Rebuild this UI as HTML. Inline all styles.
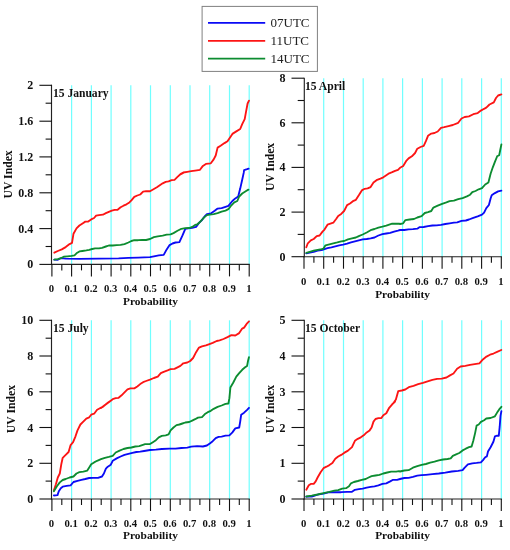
<!DOCTYPE html>
<html><head><meta charset="utf-8"><title>UV Index probability</title>
<style>
html,body{margin:0;padding:0;background:#fff;}
svg{display:block;}
text{font-family:"Liberation Serif","Times New Roman",serif;fill:#111;}
.yl{font-size:12px;font-weight:bold;}
.xl{font-size:10.7px;font-weight:bold;}
.al{font-size:11.7px;font-weight:bold;}
.pl{font-size:11.4px;font-weight:bold;}
.tl{font-size:11.6px;font-weight:bold;}
.lg{font-size:13px;fill:#222;}
</style></head><body>
<svg width="510" height="550" viewBox="0 0 510 550">
<rect width="510" height="550" fill="#fff"/>
<g>
<rect x="202.1" y="6.4" width="115.3" height="65" fill="#fff" stroke="#808080" stroke-width="1"/>
<line x1="208" y1="22.9" x2="265.2" y2="22.9" stroke="#0a0af5" stroke-width="1.6"/>
<line x1="208" y1="40.9" x2="265.2" y2="40.9" stroke="#fc1414" stroke-width="1.6"/>
<line x1="208" y1="58.6" x2="265.2" y2="58.6" stroke="#0c8c30" stroke-width="1.6"/>
<text x="270.5" y="26.9" class="lg">07UTC</text>
<text x="270.5" y="45.2" class="lg">11UTC</text>
<text x="270.5" y="62.9" class="lg">14UTC</text>
</g>
<g><line x1="71.6" y1="85.3" x2="71.6" y2="264.4" stroke="#70ffff" stroke-width="1.2"/>
<line x1="91.4" y1="85.3" x2="91.4" y2="264.4" stroke="#70ffff" stroke-width="1.2"/>
<line x1="111.1" y1="85.3" x2="111.1" y2="264.4" stroke="#70ffff" stroke-width="1.2"/>
<line x1="130.8" y1="85.3" x2="130.8" y2="264.4" stroke="#70ffff" stroke-width="1.2"/>
<line x1="150.5" y1="85.3" x2="150.5" y2="264.4" stroke="#70ffff" stroke-width="1.2"/>
<line x1="170.3" y1="85.3" x2="170.3" y2="264.4" stroke="#70ffff" stroke-width="1.2"/>
<line x1="190.0" y1="85.3" x2="190.0" y2="264.4" stroke="#70ffff" stroke-width="1.2"/>
<line x1="209.7" y1="85.3" x2="209.7" y2="264.4" stroke="#70ffff" stroke-width="1.2"/>
<line x1="229.5" y1="85.3" x2="229.5" y2="264.4" stroke="#70ffff" stroke-width="1.2"/>
<line x1="249.2" y1="85.3" x2="249.2" y2="264.4" stroke="#70ffff" stroke-width="1.2"/>
<polyline points="54.3,259.6 57.8,259.8 60.8,258.2 65.7,258.6 79.4,258.8 99.0,258.6 118.6,258.4 128.4,257.8 138.2,257.6 150.0,257.1 153.9,256.3 158.8,255.3 163.7,254.9 166.7,249.4 169.6,245.1 172.5,243.5 175.5,242.5 179.4,242.2 182.4,235.7 185.3,228.8 188.2,228.4 192.2,227.8 196.1,226.9 199.0,222.9 202.0,220.0 204.9,216.1 206.9,214.1 210.8,213.5 214.7,210.8 217.6,208.6 221.6,208.2 225.5,206.9 228.4,205.9 232.4,201.0 235.3,198.4 238.2,196.5 240.2,188.6 242.2,179.8 243.7,172.9 244.1,170.2 247.1,169.2 248.6,168.6" fill="none" stroke="#0a0af5" stroke-width="1.85" stroke-linejoin="round" stroke-linecap="round"/>
<polyline points="54.3,252.7 57.8,251.0 61.8,249.4 65.7,247.1 69.6,244.1 72.0,242.9 73.5,233.7 76.5,228.4 79.4,225.5 83.3,222.9 85.3,221.6 88.2,221.6 91.2,219.4 94.1,218.0 96.1,215.7 99.0,215.1 102.9,214.7 105.9,213.1 108.8,211.8 111.8,210.6 114.7,209.8 117.6,209.8 120.6,207.3 123.5,205.7 126.5,204.3 129.4,202.4 131.4,200.4 134.3,196.9 137.3,195.5 140.2,194.5 143.1,191.6 146.1,191.2 150.0,191.2 153.9,189.0 156.9,187.3 159.8,185.3 162.7,183.3 165.7,181.8 168.6,181.4 171.6,180.2 174.5,179.8 177.5,176.9 180.4,174.3 183.3,172.9 180.4,174.1 183.3,172.5 187.3,171.8 191.2,171.2 195.1,170.6 200.0,169.8 202.9,165.9 205.9,163.9 210.8,163.3 213.7,159.4 215.7,155.5 217.6,147.6 220.6,145.7 224.5,143.1 227.5,141.2 230.4,136.9 232.4,133.9 236.3,131.4 240.2,129.0 242.2,124.1 244.7,119.2 246.1,111.4 247.6,103.5 249.0,100.6" fill="none" stroke="#fc1414" stroke-width="1.85" stroke-linejoin="round" stroke-linecap="round"/>
<polyline points="54.3,259.6 57.8,259.2 60.8,258.2 63.7,256.7 67.6,256.3 71.6,255.9 74.5,255.3 76.5,253.3 79.4,251.4 82.4,251.0 86.3,250.4 89.2,249.8 92.2,249.0 95.1,248.4 99.0,248.4 102.0,247.8 105.9,246.5 108.8,245.5 112.7,245.5 116.7,245.1 120.6,244.9 124.5,244.1 128.4,242.5 131.4,241.0 134.3,240.2 138.2,240.2 142.2,240.0 146.1,240.0 150.0,239.0 153.9,237.1 157.8,236.3 162.7,235.7 166.7,234.7 170.6,234.3 173.5,233.1 177.5,230.8 181.4,228.8 185.3,228.2 189.2,228.0 192.2,226.9 195.1,224.9 197.1,224.5 200.0,222.0 203.9,217.6 206.9,215.1 209.8,214.7 213.7,214.1 217.6,213.1 221.6,211.6 225.5,210.6 228.4,209.2 231.4,205.3 234.3,202.4 237.3,201.0 239.2,196.5 242.2,193.5 246.1,191.0 248.4,189.6" fill="none" stroke="#0c8c30" stroke-width="1.85" stroke-linejoin="round" stroke-linecap="round"/>
<line x1="51.50" y1="84.8" x2="51.50" y2="264.9" stroke="#222" stroke-width="1.15"/>
<line x1="51.3" y1="264.4" x2="249.8" y2="264.4" stroke="#222" stroke-width="1.15"/>
<line x1="39.4" y1="85.3" x2="51.9" y2="85.3" stroke="#111" stroke-width="1.1"/>
<text x="33.3" y="89.3" text-anchor="end" class="yl">2</text>
<line x1="45.6" y1="103.2" x2="51.9" y2="103.2" stroke="#111" stroke-width="1.1"/>
<line x1="39.4" y1="121.2" x2="51.9" y2="121.2" stroke="#111" stroke-width="1.1"/>
<text x="33.3" y="125.2" text-anchor="end" class="yl">1.6</text>
<line x1="45.6" y1="139.1" x2="51.9" y2="139.1" stroke="#111" stroke-width="1.1"/>
<line x1="39.4" y1="156.9" x2="51.9" y2="156.9" stroke="#111" stroke-width="1.1"/>
<text x="33.3" y="160.9" text-anchor="end" class="yl">1.2</text>
<line x1="45.6" y1="174.8" x2="51.9" y2="174.8" stroke="#111" stroke-width="1.1"/>
<line x1="39.4" y1="192.8" x2="51.9" y2="192.8" stroke="#111" stroke-width="1.1"/>
<text x="33.3" y="196.8" text-anchor="end" class="yl">0.8</text>
<line x1="45.6" y1="210.7" x2="51.9" y2="210.7" stroke="#111" stroke-width="1.1"/>
<line x1="39.4" y1="228.6" x2="51.9" y2="228.6" stroke="#111" stroke-width="1.1"/>
<text x="33.3" y="232.6" text-anchor="end" class="yl">0.4</text>
<line x1="45.6" y1="246.5" x2="51.9" y2="246.5" stroke="#111" stroke-width="1.1"/>
<line x1="39.4" y1="264.4" x2="51.9" y2="264.4" stroke="#111" stroke-width="1.1"/>
<text x="33.3" y="268.4" text-anchor="end" class="yl">0</text>
<line x1="51.9" y1="264.4" x2="51.9" y2="276.4" stroke="#111" stroke-width="1.1"/>
<text x="51.5" y="292.15" text-anchor="middle" class="xl">0</text>
<line x1="61.8" y1="264.4" x2="61.8" y2="270.4" stroke="#111" stroke-width="1.1"/>
<line x1="71.6" y1="264.4" x2="71.6" y2="276.4" stroke="#111" stroke-width="1.1"/>
<text x="71.2" y="292.15" text-anchor="middle" class="xl">0.1</text>
<line x1="81.5" y1="264.4" x2="81.5" y2="270.4" stroke="#111" stroke-width="1.1"/>
<line x1="91.4" y1="264.4" x2="91.4" y2="276.4" stroke="#111" stroke-width="1.1"/>
<text x="91.0" y="292.15" text-anchor="middle" class="xl">0.2</text>
<line x1="101.2" y1="264.4" x2="101.2" y2="270.4" stroke="#111" stroke-width="1.1"/>
<line x1="111.1" y1="264.4" x2="111.1" y2="276.4" stroke="#111" stroke-width="1.1"/>
<text x="110.7" y="292.15" text-anchor="middle" class="xl">0.3</text>
<line x1="121.0" y1="264.4" x2="121.0" y2="270.4" stroke="#111" stroke-width="1.1"/>
<line x1="130.8" y1="264.4" x2="130.8" y2="276.4" stroke="#111" stroke-width="1.1"/>
<text x="130.4" y="292.15" text-anchor="middle" class="xl">0.4</text>
<line x1="140.7" y1="264.4" x2="140.7" y2="270.4" stroke="#111" stroke-width="1.1"/>
<line x1="150.5" y1="264.4" x2="150.5" y2="276.4" stroke="#111" stroke-width="1.1"/>
<text x="150.1" y="292.15" text-anchor="middle" class="xl">0.5</text>
<line x1="160.4" y1="264.4" x2="160.4" y2="270.4" stroke="#111" stroke-width="1.1"/>
<line x1="170.3" y1="264.4" x2="170.3" y2="276.4" stroke="#111" stroke-width="1.1"/>
<text x="169.9" y="292.15" text-anchor="middle" class="xl">0.6</text>
<line x1="180.1" y1="264.4" x2="180.1" y2="270.4" stroke="#111" stroke-width="1.1"/>
<line x1="190.0" y1="264.4" x2="190.0" y2="276.4" stroke="#111" stroke-width="1.1"/>
<text x="189.6" y="292.15" text-anchor="middle" class="xl">0.7</text>
<line x1="199.9" y1="264.4" x2="199.9" y2="270.4" stroke="#111" stroke-width="1.1"/>
<line x1="209.7" y1="264.4" x2="209.7" y2="276.4" stroke="#111" stroke-width="1.1"/>
<text x="209.3" y="292.15" text-anchor="middle" class="xl">0.8</text>
<line x1="219.6" y1="264.4" x2="219.6" y2="270.4" stroke="#111" stroke-width="1.1"/>
<line x1="229.5" y1="264.4" x2="229.5" y2="276.4" stroke="#111" stroke-width="1.1"/>
<text x="229.1" y="292.15" text-anchor="middle" class="xl">0.9</text>
<line x1="239.3" y1="264.4" x2="239.3" y2="270.4" stroke="#111" stroke-width="1.1"/>
<line x1="249.2" y1="264.4" x2="249.2" y2="276.4" stroke="#111" stroke-width="1.1"/>
<text x="248.8" y="292.15" text-anchor="middle" class="xl">1</text>
<text x="150.5" y="305.05" text-anchor="middle" class="pl">Probability</text>
<text transform="translate(11.6,174.4) rotate(-90)" text-anchor="middle" class="al">UV Index</text>
<text x="52.9" y="96.6" class="tl">15 January</text></g>
<g><line x1="323.7" y1="78.2" x2="323.7" y2="256.7" stroke="#70ffff" stroke-width="1.2"/>
<line x1="343.5" y1="78.2" x2="343.5" y2="256.7" stroke="#70ffff" stroke-width="1.2"/>
<line x1="363.2" y1="78.2" x2="363.2" y2="256.7" stroke="#70ffff" stroke-width="1.2"/>
<line x1="382.9" y1="78.2" x2="382.9" y2="256.7" stroke="#70ffff" stroke-width="1.2"/>
<line x1="402.6" y1="78.2" x2="402.6" y2="256.7" stroke="#70ffff" stroke-width="1.2"/>
<line x1="422.4" y1="78.2" x2="422.4" y2="256.7" stroke="#70ffff" stroke-width="1.2"/>
<line x1="442.1" y1="78.2" x2="442.1" y2="256.7" stroke="#70ffff" stroke-width="1.2"/>
<line x1="461.8" y1="78.2" x2="461.8" y2="256.7" stroke="#70ffff" stroke-width="1.2"/>
<line x1="481.6" y1="78.2" x2="481.6" y2="256.7" stroke="#70ffff" stroke-width="1.2"/>
<line x1="501.3" y1="78.2" x2="501.3" y2="256.7" stroke="#70ffff" stroke-width="1.2"/>
<polyline points="306.3,253.3 309.8,252.5 313.7,251.8 317.6,250.6 321.6,250.2 324.5,249.2 327.5,248.2 331.4,247.3 335.3,246.3 339.2,245.3 343.1,244.7 347.1,243.7 351.0,242.4 354.9,241.4 358.8,240.4 362.7,239.4 366.7,239.0 370.6,238.4 374.5,237.5 378.4,235.5 382.4,234.1 386.3,233.5 390.2,232.9 394.1,231.6 398.0,230.6 400.0,230.0 404.3,230.0 408.6,229.4 412.9,229.2 417.3,228.7 419.4,227.2 423.7,227.0 428.0,226.1 432.4,225.5 436.7,225.3 441.0,224.8 445.3,224.0 449.6,223.3 453.9,222.7 457.2,222.3 461.5,220.8 465.8,220.5 469.0,219.5 473.3,217.9 477.7,216.4 482.0,214.7 484.1,212.6 486.3,208.2 488.9,205.0 490.6,198.5 491.7,195.3 494.9,193.1 498.1,191.4 501.4,190.6" fill="none" stroke="#0a0af5" stroke-width="1.85" stroke-linejoin="round" stroke-linecap="round"/>
<polyline points="306.3,247.3 307.8,243.3 310.8,240.4 313.7,239.0 316.7,236.1 319.6,235.5 322.5,231.6 324.5,229.6 327.5,224.7 330.4,223.7 333.3,222.7 336.3,218.8 338.2,215.9 341.2,213.9 344.1,211.0 347.1,205.1 350.0,203.5 352.9,201.2 355.9,199.8 358.8,195.3 361.8,190.4 364.7,188.8 367.6,188.4 370.6,187.1 373.5,182.5 376.5,180.2 380.4,178.6 383.3,177.3 386.3,175.3 389.2,173.3 392.2,172.2 395.1,170.8 398.0,169.8 400.0,167.8 403.2,166.0 406.5,160.6 408.6,158.4 411.9,156.3 415.1,153.0 417.3,148.7 420.5,147.0 423.7,145.9 425.9,141.2 428.0,135.8 431.3,133.6 434.5,133.0 437.7,131.5 441.0,127.8 444.2,127.2 448.5,126.1 452.8,125.0 458.2,122.8 461.5,118.5 464.7,117.0 469.0,116.4 473.3,114.2 477.7,113.1 480.9,110.6 484.1,108.8 486.3,107.7 489.5,104.5 493.8,102.4 496.0,98.0 498.1,95.5 501.4,94.4" fill="none" stroke="#fc1414" stroke-width="1.85" stroke-linejoin="round" stroke-linecap="round"/>
<polyline points="306.3,252.9 309.8,251.8 313.7,250.6 317.6,249.8 321.6,249.2 323.5,248.6 325.5,245.3 329.4,244.3 333.3,243.3 337.3,242.4 341.2,241.4 344.1,241.0 348.0,239.4 352.0,238.4 355.9,237.5 358.8,236.1 362.7,234.5 366.7,232.5 370.6,230.2 374.5,229.0 378.4,227.6 382.4,226.7 386.3,225.7 389.2,224.7 392.2,223.7 396.1,223.7 399.0,223.7 400.0,224.0 403.2,223.3 405.4,220.1 409.7,219.5 414.0,219.0 417.3,217.5 421.6,216.2 424.8,213.0 428.0,212.1 431.3,211.0 433.4,207.6 437.7,205.7 442.1,203.9 446.4,202.4 449.6,201.1 453.9,200.7 458.2,199.2 462.6,198.1 466.9,196.4 470.1,194.7 472.3,192.1 475.5,191.0 478.7,189.3 482.0,188.2 485.2,184.5 488.4,182.4 490.6,173.7 492.8,167.3 494.9,161.9 497.1,156.5 497.1,156.3 499.2,155.2 500.3,149.8 501.4,144.4" fill="none" stroke="#0c8c30" stroke-width="1.85" stroke-linejoin="round" stroke-linecap="round"/>
<line x1="304.30" y1="77.7" x2="304.30" y2="257.2" stroke="#222" stroke-width="1.15"/>
<line x1="303.4" y1="256.7" x2="501.9" y2="256.7" stroke="#222" stroke-width="1.15"/>
<line x1="291.5" y1="78.2" x2="304.0" y2="78.2" stroke="#111" stroke-width="1.1"/>
<text x="285.4" y="82.2" text-anchor="end" class="yl">8</text>
<line x1="297.7" y1="100.5" x2="304.0" y2="100.5" stroke="#111" stroke-width="1.1"/>
<line x1="291.5" y1="122.8" x2="304.0" y2="122.8" stroke="#111" stroke-width="1.1"/>
<text x="285.4" y="126.8" text-anchor="end" class="yl">6</text>
<line x1="297.7" y1="145.1" x2="304.0" y2="145.1" stroke="#111" stroke-width="1.1"/>
<line x1="291.5" y1="167.4" x2="304.0" y2="167.4" stroke="#111" stroke-width="1.1"/>
<text x="285.4" y="171.4" text-anchor="end" class="yl">4</text>
<line x1="297.7" y1="189.7" x2="304.0" y2="189.7" stroke="#111" stroke-width="1.1"/>
<line x1="291.5" y1="212.1" x2="304.0" y2="212.1" stroke="#111" stroke-width="1.1"/>
<text x="285.4" y="216.1" text-anchor="end" class="yl">2</text>
<line x1="297.7" y1="234.4" x2="304.0" y2="234.4" stroke="#111" stroke-width="1.1"/>
<line x1="291.5" y1="256.7" x2="304.0" y2="256.7" stroke="#111" stroke-width="1.1"/>
<text x="285.4" y="260.7" text-anchor="end" class="yl">0</text>
<line x1="304.0" y1="256.7" x2="304.0" y2="268.7" stroke="#111" stroke-width="1.1"/>
<text x="303.6" y="284.50" text-anchor="middle" class="xl">0</text>
<line x1="313.9" y1="256.7" x2="313.9" y2="262.7" stroke="#111" stroke-width="1.1"/>
<line x1="323.7" y1="256.7" x2="323.7" y2="268.7" stroke="#111" stroke-width="1.1"/>
<text x="323.3" y="284.50" text-anchor="middle" class="xl">0.1</text>
<line x1="333.6" y1="256.7" x2="333.6" y2="262.7" stroke="#111" stroke-width="1.1"/>
<line x1="343.5" y1="256.7" x2="343.5" y2="268.7" stroke="#111" stroke-width="1.1"/>
<text x="343.1" y="284.50" text-anchor="middle" class="xl">0.2</text>
<line x1="353.3" y1="256.7" x2="353.3" y2="262.7" stroke="#111" stroke-width="1.1"/>
<line x1="363.2" y1="256.7" x2="363.2" y2="268.7" stroke="#111" stroke-width="1.1"/>
<text x="362.8" y="284.50" text-anchor="middle" class="xl">0.3</text>
<line x1="373.1" y1="256.7" x2="373.1" y2="262.7" stroke="#111" stroke-width="1.1"/>
<line x1="382.9" y1="256.7" x2="382.9" y2="268.7" stroke="#111" stroke-width="1.1"/>
<text x="382.5" y="284.50" text-anchor="middle" class="xl">0.4</text>
<line x1="392.8" y1="256.7" x2="392.8" y2="262.7" stroke="#111" stroke-width="1.1"/>
<line x1="402.6" y1="256.7" x2="402.6" y2="268.7" stroke="#111" stroke-width="1.1"/>
<text x="402.2" y="284.50" text-anchor="middle" class="xl">0.5</text>
<line x1="412.5" y1="256.7" x2="412.5" y2="262.7" stroke="#111" stroke-width="1.1"/>
<line x1="422.4" y1="256.7" x2="422.4" y2="268.7" stroke="#111" stroke-width="1.1"/>
<text x="422.0" y="284.50" text-anchor="middle" class="xl">0.6</text>
<line x1="432.2" y1="256.7" x2="432.2" y2="262.7" stroke="#111" stroke-width="1.1"/>
<line x1="442.1" y1="256.7" x2="442.1" y2="268.7" stroke="#111" stroke-width="1.1"/>
<text x="441.7" y="284.50" text-anchor="middle" class="xl">0.7</text>
<line x1="452.0" y1="256.7" x2="452.0" y2="262.7" stroke="#111" stroke-width="1.1"/>
<line x1="461.8" y1="256.7" x2="461.8" y2="268.7" stroke="#111" stroke-width="1.1"/>
<text x="461.4" y="284.50" text-anchor="middle" class="xl">0.8</text>
<line x1="471.7" y1="256.7" x2="471.7" y2="262.7" stroke="#111" stroke-width="1.1"/>
<line x1="481.6" y1="256.7" x2="481.6" y2="268.7" stroke="#111" stroke-width="1.1"/>
<text x="481.2" y="284.50" text-anchor="middle" class="xl">0.9</text>
<line x1="491.4" y1="256.7" x2="491.4" y2="262.7" stroke="#111" stroke-width="1.1"/>
<line x1="501.3" y1="256.7" x2="501.3" y2="268.7" stroke="#111" stroke-width="1.1"/>
<text x="500.9" y="284.50" text-anchor="middle" class="xl">1</text>
<text x="402.6" y="297.90" text-anchor="middle" class="pl">Probability</text>
<text transform="translate(273.8,166.9) rotate(-90)" text-anchor="middle" class="al">UV Index</text>
<text x="305.0" y="89.5" class="tl">15 April</text></g>
<g><line x1="71.6" y1="320.3" x2="71.6" y2="499.0" stroke="#70ffff" stroke-width="1.2"/>
<line x1="91.4" y1="320.3" x2="91.4" y2="499.0" stroke="#70ffff" stroke-width="1.2"/>
<line x1="111.1" y1="320.3" x2="111.1" y2="499.0" stroke="#70ffff" stroke-width="1.2"/>
<line x1="130.8" y1="320.3" x2="130.8" y2="499.0" stroke="#70ffff" stroke-width="1.2"/>
<line x1="150.5" y1="320.3" x2="150.5" y2="499.0" stroke="#70ffff" stroke-width="1.2"/>
<line x1="170.3" y1="320.3" x2="170.3" y2="499.0" stroke="#70ffff" stroke-width="1.2"/>
<line x1="190.0" y1="320.3" x2="190.0" y2="499.0" stroke="#70ffff" stroke-width="1.2"/>
<line x1="209.7" y1="320.3" x2="209.7" y2="499.0" stroke="#70ffff" stroke-width="1.2"/>
<line x1="229.5" y1="320.3" x2="229.5" y2="499.0" stroke="#70ffff" stroke-width="1.2"/>
<line x1="249.2" y1="320.3" x2="249.2" y2="499.0" stroke="#70ffff" stroke-width="1.2"/>
<polyline points="53.9,495.5 57.5,495.1 58.8,491.2 60.8,488.2 62.7,486.7 66.7,485.9 70.6,485.3 73.5,482.0 77.5,480.8 81.4,479.8 85.3,479.0 89.2,478.0 93.1,477.8 98.0,477.8 102.0,476.5 103.9,473.5 105.9,468.6 107.8,466.7 110.8,464.7 112.7,460.8 116.7,458.4 120.6,456.5 124.5,454.9 128.4,453.9 132.4,452.9 136.3,452.0 140.2,451.6 144.1,451.0 150.0,450.0 155.9,449.6 161.8,449.0 169.6,448.6 175.5,448.6 181.4,448.0 187.3,447.6 191.2,446.7 197.1,446.1 202.9,446.5 206.9,445.5 209.8,443.5 212.7,441.2 215.7,438.2 218.6,436.9 221.6,436.7 225.5,435.7 229.4,435.3 232.4,432.4 235.3,428.4 239.2,427.5 240.2,421.6 241.2,414.7 244.1,412.7 247.1,409.8 249.0,407.8" fill="none" stroke="#0a0af5" stroke-width="1.85" stroke-linejoin="round" stroke-linecap="round"/>
<polyline points="53.9,490.2 55.9,484.3 57.8,477.5 59.8,473.5 61.4,463.7 62.7,457.8 65.7,454.9 68.6,452.0 70.6,445.1 73.1,442.2 75.5,436.3 77.5,430.4 80.4,424.5 83.3,421.6 86.3,418.6 89.2,417.3 91.2,414.7 94.1,413.7 97.1,409.8 100.0,408.2 102.9,406.9 105.9,404.3 108.8,402.0 111.8,400.0 101.0,408.0 104.9,405.1 108.8,402.2 112.7,399.2 115.7,398.2 118.6,397.8 121.6,395.3 124.5,392.4 127.5,389.4 130.4,388.4 134.3,388.4 137.3,386.5 140.2,384.1 143.1,382.2 146.1,381.0 150.0,379.6 153.9,378.0 157.8,376.7 160.8,373.1 163.7,371.8 167.6,370.4 170.6,369.2 174.5,368.8 177.5,367.3 180.4,365.9 183.3,363.3 187.3,362.5 190.2,361.0 193.1,358.0 196.1,352.2 199.0,347.6 202.0,346.3 205.9,345.3 208.8,344.3 212.7,342.9 216.7,341.0 219.6,340.4 223.5,339.0 227.5,337.1 231.4,335.1 235.3,335.5 239.2,333.1 242.2,328.6 244.1,327.6 247.1,323.3 249.0,321.4" fill="none" stroke="#fc1414" stroke-width="1.85" stroke-linejoin="round" stroke-linecap="round"/>
<polyline points="53.9,491.2 56.9,486.3 59.8,482.4 62.7,480.0 65.7,479.0 69.6,477.5 73.5,476.5 76.5,473.5 79.4,472.2 83.3,471.6 87.3,470.6 89.2,467.6 91.2,464.3 94.1,462.4 97.1,460.8 101.0,459.2 104.9,457.8 108.8,456.9 112.7,455.9 115.7,452.5 119.6,450.6 123.5,449.0 127.5,448.0 131.4,447.5 135.3,446.5 139.2,446.1 142.2,445.1 145.1,444.1 150.0,444.1 152.9,442.2 155.9,440.2 158.8,437.3 161.8,435.9 165.7,435.3 168.6,434.3 170.6,430.4 173.5,427.5 176.5,425.1 179.4,424.5 182.4,423.5 185.3,422.5 189.2,422.0 192.2,420.6 195.1,419.2 198.0,417.6 202.0,417.1 204.9,414.1 207.8,412.2 210.8,410.8 213.7,408.8 217.6,406.9 221.6,405.5 225.5,403.9 228.4,403.5 229.4,398.2 230.4,387.5 233.3,382.5 236.3,376.7 239.2,373.1 242.2,369.8 245.1,367.3 247.1,365.9 248.0,361.0 249.0,357.1" fill="none" stroke="#0c8c30" stroke-width="1.85" stroke-linejoin="round" stroke-linecap="round"/>
<line x1="51.50" y1="319.8" x2="51.50" y2="499.5" stroke="#222" stroke-width="1.15"/>
<line x1="51.3" y1="499.0" x2="249.8" y2="499.0" stroke="#222" stroke-width="1.15"/>
<line x1="39.4" y1="320.3" x2="51.9" y2="320.3" stroke="#111" stroke-width="1.1"/>
<text x="33.3" y="324.3" text-anchor="end" class="yl">10</text>
<line x1="45.6" y1="338.2" x2="51.9" y2="338.2" stroke="#111" stroke-width="1.1"/>
<line x1="39.4" y1="356.0" x2="51.9" y2="356.0" stroke="#111" stroke-width="1.1"/>
<text x="33.3" y="360.0" text-anchor="end" class="yl">8</text>
<line x1="45.6" y1="373.9" x2="51.9" y2="373.9" stroke="#111" stroke-width="1.1"/>
<line x1="39.4" y1="391.8" x2="51.9" y2="391.8" stroke="#111" stroke-width="1.1"/>
<text x="33.3" y="395.8" text-anchor="end" class="yl">6</text>
<line x1="45.6" y1="409.6" x2="51.9" y2="409.6" stroke="#111" stroke-width="1.1"/>
<line x1="39.4" y1="427.5" x2="51.9" y2="427.5" stroke="#111" stroke-width="1.1"/>
<text x="33.3" y="431.5" text-anchor="end" class="yl">4</text>
<line x1="45.6" y1="445.4" x2="51.9" y2="445.4" stroke="#111" stroke-width="1.1"/>
<line x1="39.4" y1="463.3" x2="51.9" y2="463.3" stroke="#111" stroke-width="1.1"/>
<text x="33.3" y="467.3" text-anchor="end" class="yl">2</text>
<line x1="45.6" y1="481.1" x2="51.9" y2="481.1" stroke="#111" stroke-width="1.1"/>
<line x1="39.4" y1="499.0" x2="51.9" y2="499.0" stroke="#111" stroke-width="1.1"/>
<text x="33.3" y="503.0" text-anchor="end" class="yl">0</text>
<line x1="51.9" y1="499.0" x2="51.9" y2="511.0" stroke="#111" stroke-width="1.1"/>
<text x="51.5" y="526.50" text-anchor="middle" class="xl">0</text>
<line x1="61.8" y1="499.0" x2="61.8" y2="505.0" stroke="#111" stroke-width="1.1"/>
<line x1="71.6" y1="499.0" x2="71.6" y2="511.0" stroke="#111" stroke-width="1.1"/>
<text x="71.2" y="526.50" text-anchor="middle" class="xl">0.1</text>
<line x1="81.5" y1="499.0" x2="81.5" y2="505.0" stroke="#111" stroke-width="1.1"/>
<line x1="91.4" y1="499.0" x2="91.4" y2="511.0" stroke="#111" stroke-width="1.1"/>
<text x="91.0" y="526.50" text-anchor="middle" class="xl">0.2</text>
<line x1="101.2" y1="499.0" x2="101.2" y2="505.0" stroke="#111" stroke-width="1.1"/>
<line x1="111.1" y1="499.0" x2="111.1" y2="511.0" stroke="#111" stroke-width="1.1"/>
<text x="110.7" y="526.50" text-anchor="middle" class="xl">0.3</text>
<line x1="121.0" y1="499.0" x2="121.0" y2="505.0" stroke="#111" stroke-width="1.1"/>
<line x1="130.8" y1="499.0" x2="130.8" y2="511.0" stroke="#111" stroke-width="1.1"/>
<text x="130.4" y="526.50" text-anchor="middle" class="xl">0.4</text>
<line x1="140.7" y1="499.0" x2="140.7" y2="505.0" stroke="#111" stroke-width="1.1"/>
<line x1="150.5" y1="499.0" x2="150.5" y2="511.0" stroke="#111" stroke-width="1.1"/>
<text x="150.1" y="526.50" text-anchor="middle" class="xl">0.5</text>
<line x1="160.4" y1="499.0" x2="160.4" y2="505.0" stroke="#111" stroke-width="1.1"/>
<line x1="170.3" y1="499.0" x2="170.3" y2="511.0" stroke="#111" stroke-width="1.1"/>
<text x="169.9" y="526.50" text-anchor="middle" class="xl">0.6</text>
<line x1="180.1" y1="499.0" x2="180.1" y2="505.0" stroke="#111" stroke-width="1.1"/>
<line x1="190.0" y1="499.0" x2="190.0" y2="511.0" stroke="#111" stroke-width="1.1"/>
<text x="189.6" y="526.50" text-anchor="middle" class="xl">0.7</text>
<line x1="199.9" y1="499.0" x2="199.9" y2="505.0" stroke="#111" stroke-width="1.1"/>
<line x1="209.7" y1="499.0" x2="209.7" y2="511.0" stroke="#111" stroke-width="1.1"/>
<text x="209.3" y="526.50" text-anchor="middle" class="xl">0.8</text>
<line x1="219.6" y1="499.0" x2="219.6" y2="505.0" stroke="#111" stroke-width="1.1"/>
<line x1="229.5" y1="499.0" x2="229.5" y2="511.0" stroke="#111" stroke-width="1.1"/>
<text x="229.1" y="526.50" text-anchor="middle" class="xl">0.9</text>
<line x1="239.3" y1="499.0" x2="239.3" y2="505.0" stroke="#111" stroke-width="1.1"/>
<line x1="249.2" y1="499.0" x2="249.2" y2="511.0" stroke="#111" stroke-width="1.1"/>
<text x="248.8" y="526.50" text-anchor="middle" class="xl">1</text>
<text x="150.5" y="539.40" text-anchor="middle" class="pl">Probability</text>
<text transform="translate(15.3,409.1) rotate(-90)" text-anchor="middle" class="al">UV Index</text>
<text x="52.9" y="331.6" class="tl">15 July</text></g>
<g><line x1="323.7" y1="320.3" x2="323.7" y2="499.0" stroke="#70ffff" stroke-width="1.2"/>
<line x1="343.5" y1="320.3" x2="343.5" y2="499.0" stroke="#70ffff" stroke-width="1.2"/>
<line x1="363.2" y1="320.3" x2="363.2" y2="499.0" stroke="#70ffff" stroke-width="1.2"/>
<line x1="382.9" y1="320.3" x2="382.9" y2="499.0" stroke="#70ffff" stroke-width="1.2"/>
<line x1="402.6" y1="320.3" x2="402.6" y2="499.0" stroke="#70ffff" stroke-width="1.2"/>
<line x1="422.4" y1="320.3" x2="422.4" y2="499.0" stroke="#70ffff" stroke-width="1.2"/>
<line x1="442.1" y1="320.3" x2="442.1" y2="499.0" stroke="#70ffff" stroke-width="1.2"/>
<line x1="461.8" y1="320.3" x2="461.8" y2="499.0" stroke="#70ffff" stroke-width="1.2"/>
<line x1="481.6" y1="320.3" x2="481.6" y2="499.0" stroke="#70ffff" stroke-width="1.2"/>
<line x1="501.3" y1="320.3" x2="501.3" y2="499.0" stroke="#70ffff" stroke-width="1.2"/>
<polyline points="306.3,496.7 311.8,496.5 317.6,494.7 323.5,493.7 329.4,492.2 335.3,492.2 341.2,492.2 347.1,491.8 352.0,491.8 354.9,489.8 358.8,489.2 362.7,488.6 366.7,487.6 370.6,486.9 374.5,486.3 378.4,485.3 382.4,483.9 386.3,483.3 390.2,481.4 393.1,479.8 397.1,479.8 400.0,479.0 404.3,478.0 408.6,477.8 412.9,476.9 417.3,475.6 421.6,475.2 425.9,474.8 432.4,474.1 438.8,473.5 445.3,472.6 451.8,471.5 458.2,470.9 462.6,470.2 464.7,467.7 467.9,464.4 472.3,463.3 476.6,462.9 480.9,462.3 483.0,460.1 485.2,457.3 486.9,456.4 488.0,451.5 490.6,447.2 493.4,441.8 494.9,436.4 497.1,435.7 498.8,435.7 499.7,426.7 500.5,415.9 501.4,411.1" fill="none" stroke="#0a0af5" stroke-width="1.85" stroke-linejoin="round" stroke-linecap="round"/>
<polyline points="306.3,489.8 308.8,485.3 310.8,483.9 313.7,483.9 315.7,481.4 317.6,477.5 320.6,472.2 323.5,468.2 326.5,466.7 329.4,465.1 332.4,463.1 335.3,458.8 338.2,456.5 341.2,454.9 344.1,452.9 348.0,450.6 352.0,447.1 354.9,440.8 357.8,438.8 360.8,437.3 363.7,435.3 366.7,432.4 369.6,430.4 371.6,427.5 373.5,421.6 375.5,419.0 378.4,418.2 381.4,418.0 383.3,415.3 386.3,413.3 389.2,407.8 392.2,404.3 395.1,401.6 393.5,402.9 395.9,399.4 398.2,391.2 401.8,390.5 405.3,389.5 408.8,387.2 413.5,385.8 418.2,384.1 422.9,382.9 427.6,381.3 432.4,379.9 437.1,378.9 441.8,378.7 446.5,377.5 450.0,375.4 453.5,373.5 457.1,368.8 460.6,366.5 465.3,365.8 470.0,364.8 474.7,364.1 479.4,363.4 482.9,359.4 486.5,356.6 490.0,354.7 493.5,353.5 497.1,351.9 501.3,350.0" fill="none" stroke="#fc1414" stroke-width="1.85" stroke-linejoin="round" stroke-linecap="round"/>
<polyline points="306.3,496.5 311.8,495.7 317.6,494.5 323.5,493.1 329.4,491.8 334.3,490.6 338.2,490.2 342.2,488.6 346.1,488.2 349.0,486.3 351.0,483.3 353.9,482.0 357.8,481.0 361.8,479.8 365.7,479.0 368.6,477.5 371.6,476.1 375.5,475.5 379.4,474.9 383.3,473.5 387.3,472.5 391.2,471.6 396.1,471.6 399.0,471.2 400.0,471.5 404.3,470.5 408.6,470.2 412.9,467.7 417.3,466.1 421.6,464.8 425.9,464.0 430.2,462.7 434.5,461.6 438.8,460.3 443.1,459.5 447.5,459.0 450.7,458.4 452.8,455.8 456.1,454.3 459.3,453.0 462.6,450.4 465.8,448.7 469.0,447.2 471.6,446.5 473.3,440.7 475.1,433.1 476.6,425.6 478.7,424.5 480.9,421.9 484.1,420.2 486.3,418.5 490.6,418.0 494.9,416.3 497.1,412.6 499.2,409.4 501.4,406.8" fill="none" stroke="#0c8c30" stroke-width="1.85" stroke-linejoin="round" stroke-linecap="round"/>
<line x1="304.30" y1="319.8" x2="304.30" y2="499.5" stroke="#222" stroke-width="1.15"/>
<line x1="303.4" y1="499.0" x2="501.9" y2="499.0" stroke="#222" stroke-width="1.15"/>
<line x1="291.5" y1="320.3" x2="304.0" y2="320.3" stroke="#111" stroke-width="1.1"/>
<text x="285.4" y="324.3" text-anchor="end" class="yl">5</text>
<line x1="297.7" y1="338.2" x2="304.0" y2="338.2" stroke="#111" stroke-width="1.1"/>
<line x1="291.5" y1="356.0" x2="304.0" y2="356.0" stroke="#111" stroke-width="1.1"/>
<text x="285.4" y="360.0" text-anchor="end" class="yl">4</text>
<line x1="297.7" y1="373.9" x2="304.0" y2="373.9" stroke="#111" stroke-width="1.1"/>
<line x1="291.5" y1="391.8" x2="304.0" y2="391.8" stroke="#111" stroke-width="1.1"/>
<text x="285.4" y="395.8" text-anchor="end" class="yl">3</text>
<line x1="297.7" y1="409.6" x2="304.0" y2="409.6" stroke="#111" stroke-width="1.1"/>
<line x1="291.5" y1="427.5" x2="304.0" y2="427.5" stroke="#111" stroke-width="1.1"/>
<text x="285.4" y="431.5" text-anchor="end" class="yl">2</text>
<line x1="297.7" y1="445.4" x2="304.0" y2="445.4" stroke="#111" stroke-width="1.1"/>
<line x1="291.5" y1="463.3" x2="304.0" y2="463.3" stroke="#111" stroke-width="1.1"/>
<text x="285.4" y="467.3" text-anchor="end" class="yl">1</text>
<line x1="297.7" y1="481.1" x2="304.0" y2="481.1" stroke="#111" stroke-width="1.1"/>
<line x1="291.5" y1="499.0" x2="304.0" y2="499.0" stroke="#111" stroke-width="1.1"/>
<text x="285.4" y="503.0" text-anchor="end" class="yl">0</text>
<line x1="304.0" y1="499.0" x2="304.0" y2="511.0" stroke="#111" stroke-width="1.1"/>
<text x="303.6" y="526.50" text-anchor="middle" class="xl">0</text>
<line x1="313.9" y1="499.0" x2="313.9" y2="505.0" stroke="#111" stroke-width="1.1"/>
<line x1="323.7" y1="499.0" x2="323.7" y2="511.0" stroke="#111" stroke-width="1.1"/>
<text x="323.3" y="526.50" text-anchor="middle" class="xl">0.1</text>
<line x1="333.6" y1="499.0" x2="333.6" y2="505.0" stroke="#111" stroke-width="1.1"/>
<line x1="343.5" y1="499.0" x2="343.5" y2="511.0" stroke="#111" stroke-width="1.1"/>
<text x="343.1" y="526.50" text-anchor="middle" class="xl">0.2</text>
<line x1="353.3" y1="499.0" x2="353.3" y2="505.0" stroke="#111" stroke-width="1.1"/>
<line x1="363.2" y1="499.0" x2="363.2" y2="511.0" stroke="#111" stroke-width="1.1"/>
<text x="362.8" y="526.50" text-anchor="middle" class="xl">0.3</text>
<line x1="373.1" y1="499.0" x2="373.1" y2="505.0" stroke="#111" stroke-width="1.1"/>
<line x1="382.9" y1="499.0" x2="382.9" y2="511.0" stroke="#111" stroke-width="1.1"/>
<text x="382.5" y="526.50" text-anchor="middle" class="xl">0.4</text>
<line x1="392.8" y1="499.0" x2="392.8" y2="505.0" stroke="#111" stroke-width="1.1"/>
<line x1="402.6" y1="499.0" x2="402.6" y2="511.0" stroke="#111" stroke-width="1.1"/>
<text x="402.2" y="526.50" text-anchor="middle" class="xl">0.5</text>
<line x1="412.5" y1="499.0" x2="412.5" y2="505.0" stroke="#111" stroke-width="1.1"/>
<line x1="422.4" y1="499.0" x2="422.4" y2="511.0" stroke="#111" stroke-width="1.1"/>
<text x="422.0" y="526.50" text-anchor="middle" class="xl">0.6</text>
<line x1="432.2" y1="499.0" x2="432.2" y2="505.0" stroke="#111" stroke-width="1.1"/>
<line x1="442.1" y1="499.0" x2="442.1" y2="511.0" stroke="#111" stroke-width="1.1"/>
<text x="441.7" y="526.50" text-anchor="middle" class="xl">0.7</text>
<line x1="452.0" y1="499.0" x2="452.0" y2="505.0" stroke="#111" stroke-width="1.1"/>
<line x1="461.8" y1="499.0" x2="461.8" y2="511.0" stroke="#111" stroke-width="1.1"/>
<text x="461.4" y="526.50" text-anchor="middle" class="xl">0.8</text>
<line x1="471.7" y1="499.0" x2="471.7" y2="505.0" stroke="#111" stroke-width="1.1"/>
<line x1="481.6" y1="499.0" x2="481.6" y2="511.0" stroke="#111" stroke-width="1.1"/>
<text x="481.2" y="526.50" text-anchor="middle" class="xl">0.9</text>
<line x1="491.4" y1="499.0" x2="491.4" y2="505.0" stroke="#111" stroke-width="1.1"/>
<line x1="501.3" y1="499.0" x2="501.3" y2="511.0" stroke="#111" stroke-width="1.1"/>
<text x="500.9" y="526.50" text-anchor="middle" class="xl">1</text>
<text x="402.6" y="539.40" text-anchor="middle" class="pl">Probability</text>
<text transform="translate(273.8,409.1) rotate(-90)" text-anchor="middle" class="al">UV Index</text>
<text x="305.0" y="331.6" class="tl">15 October</text></g>
</svg>
</body></html>
